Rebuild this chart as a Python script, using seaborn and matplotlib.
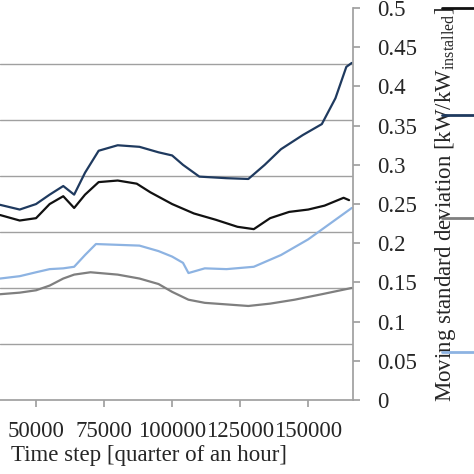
import matplotlib
matplotlib.use("Agg")
import matplotlib.pyplot as plt
import numpy as np
import pandas as pd
import seaborn as sns
from matplotlib.lines import Line2D

sns.set_theme(style="white")
plt.rcParams["font.family"] = ["Liberation Serif", "DejaVu Serif"]

# time steps (quarter hours) at which values were read
t_black = [36800, 44000, 50000, 55000, 60000, 64000, 68000, 73000, 80000, 87000, 92000, 100000,
           108000, 116000, 124000, 130000, 136000, 143000, 150000, 156000, 163000, 165000]
v_black = [0.236, 0.229, 0.232, 0.250, 0.260, 0.245, 0.262, 0.278, 0.280, 0.276, 0.265, 0.250,
           0.238, 0.230, 0.221, 0.218, 0.232, 0.240, 0.243, 0.248, 0.258, 0.255]

t_dblue = [36800, 44000, 50000, 55000, 60000, 64000, 68000, 73000, 80000, 88000, 95000, 100000,
           104000, 110000, 120000, 128000, 134000, 140000, 148000, 155000, 160000, 164000, 166000]
v_dblue = [0.249, 0.243, 0.250, 0.262, 0.273, 0.262, 0.290, 0.318, 0.325, 0.323, 0.316, 0.312,
           0.300, 0.285, 0.283, 0.282, 0.300, 0.320, 0.338, 0.352, 0.385, 0.425, 0.430]

t_lblue = [36800, 44000, 50000, 55000, 60000, 64000, 68000, 72000, 80000, 88000, 95000, 100000,
           104000, 106000, 112000, 120000, 130000, 140000, 150000, 158000, 166000]
v_lblue = [0.155, 0.158, 0.163, 0.167, 0.168, 0.170, 0.185, 0.199, 0.198, 0.197, 0.190, 0.183,
           0.175, 0.162, 0.168, 0.167, 0.170, 0.185, 0.205, 0.225, 0.245]

t_gray = [36800, 44000, 50000, 55000, 60000, 64000, 70000, 80000, 88000, 95000, 100000,
          106000, 112000, 120000, 128000, 136000, 145000, 155000, 166000]
v_gray = [0.135, 0.137, 0.140, 0.146, 0.155, 0.160, 0.163, 0.160, 0.155, 0.148, 0.138,
          0.128, 0.124, 0.122, 0.120, 0.123, 0.128, 0.135, 0.143]

series = [
    ("black", t_black, v_black, "#111111"),
    ("dark blue", t_dblue, v_dblue, "#1f3a5f"),
    ("gray", t_gray, v_gray, "#7f7f7f"),
    ("light blue", t_lblue, v_lblue, "#8db3e2"),
]

fig = plt.figure(figsize=(4.74, 4.74), dpi=100)
ax = fig.add_axes([0.0, 0.156, 0.745, 0.827])

for k in range(1, 7):
    ax.axhline(k * 0.5 / 7, color="#a0a0a0", lw=1, zorder=0)

for name, t, v, c in series:
    df = pd.DataFrame({"t": t, "v": v})
    sns.lineplot(data=df, x="t", y="v", ax=ax, color=c, lw=1.6)

ax.set_xlim(36760, 166500)
ax.set_ylim(0, 0.5)
ax.set_xticks([50000, 75000, 100000, 125000, 150000])
ax.set_yticks(np.arange(0, 0.501, 0.05))
ax.set_yticklabels(["0", "0.05", "0.1", "0.15", "0.2", "0.25", "0.3", "0.35", "0.4", "0.45", "0.5"])
ax.yaxis.tick_right()
ax.yaxis.set_label_position("right")
ax.tick_params(axis="both", labelsize=16.5, length=5, color="#a0a0a0", direction="out",
               bottom=True, right=True, left=False)
ax.tick_params(axis="x", pad=10)
ax.tick_params(axis="y", pad=12)
for s in ["top", "left"]:
    ax.spines[s].set_visible(False)
for s in ["right", "bottom"]:
    ax.spines[s].set_color("#a0a0a0")
ax.set_xlabel("Time step [quarter of an hour]", fontsize=16.5, labelpad=8)
ax.xaxis.set_label_coords(0.03, -0.115)
ax.xaxis.label.set_horizontalalignment("left")
ax.set_ylabel(r"Moving standard deviation [kW/kW$_{\mathregular{installed}}$]", fontsize=16.5, labelpad=12)

for y, c in [(8, "#111111"), (115, "#1f3a5f"), (218, "#7f7f7f"), (352, "#8db3e2")]:
    yy = 1 - y / 474
    fig.add_artist(Line2D([442 / 474, 1.0], [yy, yy], color=c, lw=2))

fig.savefig("out.png", dpi=100)
